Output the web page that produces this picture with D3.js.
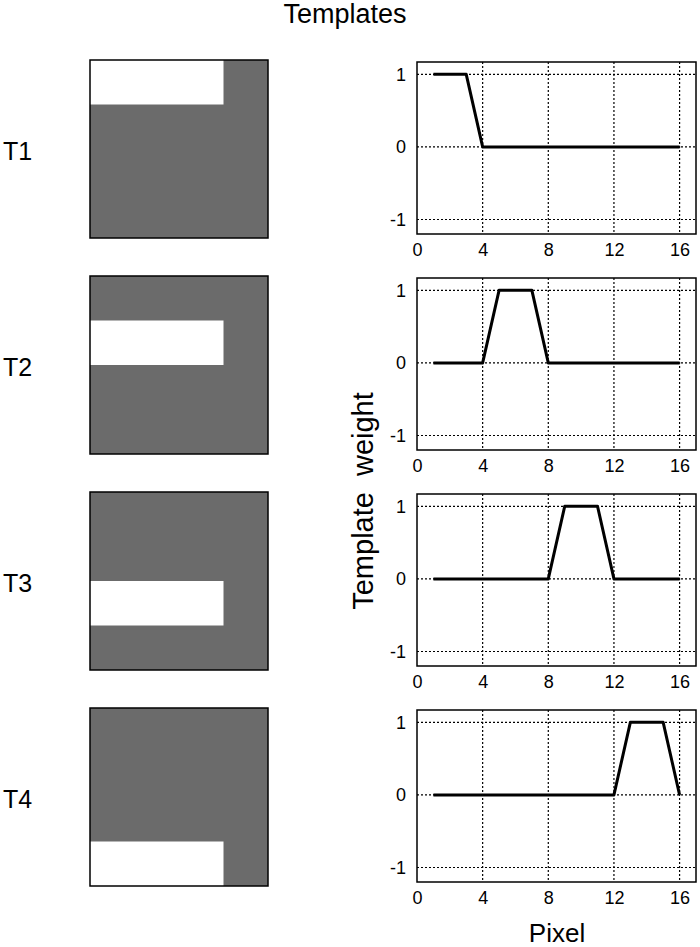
<!DOCTYPE html>
<html>
<head>
<meta charset="utf-8">
<script src="https://cdn.jsdelivr.net/npm/d3@7"></script>
<style>
  body { margin: 0; background: #fff; }
  svg text { font-family: Arial, "Liberation Sans", sans-serif; fill: #000; }
</style>
</head>
<body>
<div id="chart"></div>
<script>
// data
var templateNames = ["T1", "T2", "T3", "T4"];
var pixels = [1, 2, 3, 4, 5, 6, 7, 8, 9, 10, 11, 12, 13, 14, 15, 16];
var t1Weights = [1, 1, 1, 0, 0, 0, 0, 0, 0, 0, 0, 0, 0, 0, 0, 0];
var t2Weights = [0, 0, 0, 0, 1, 1, 1, 0, 0, 0, 0, 0, 0, 0, 0, 0];
var t3Weights = [0, 0, 0, 0, 0, 0, 0, 0, 1, 1, 1, 0, 0, 0, 0, 0];
var t4Weights = [0, 0, 0, 0, 0, 0, 0, 0, 0, 0, 0, 0, 1, 1, 1, 0];
var xTicks = [0, 4, 8, 12, 16];
var yTicks = [-1, 0, 1];
// white bar in each template image: rows [start, end), columns [0, whiteCols)
var whiteRows = [[0, 4], [4, 8], [8, 12], [12, 16]];
var whiteCols = 12;
var gridSize = 16;

var allWeights = [t1Weights, t2Weights, t3Weights, t4Weights];

var width = 700, height = 947;
var svg = d3.select("#chart").append("svg")
    .attr("width", width)
    .attr("height", height);

var panelTop = 62, panelStep = 216, plotH = 172;
var plotLeft = 417, plotRight = 696;
var imgLeft = 90, imgSize = 178;

var xScale = d3.scaleLinear().domain([0, 17]).range([plotLeft, plotRight]);

svg.append("text")
    .attr("x", 345).attr("y", 23)
    .attr("text-anchor", "middle")
    .style("font-size", "27px")
    .text("Templates");

templateNames.forEach(function(name, i){
  var top = panelTop + i * panelStep;
  var weights = allWeights[i];
  var data = pixels.map(function(p, k){ return { x: p, y: weights[k] }; });

  // template image
  var imgTop = top - 2;
  var cell = d3.scaleLinear().domain([0, gridSize]).range([0, imgSize]);
  var img = svg.append("g").attr("transform", "translate(" + imgLeft + "," + imgTop + ")");
  img.append("rect")
      .attr("width", imgSize).attr("height", imgSize)
      .attr("fill", "#6b6b6b");
  img.append("rect")
      .attr("x", cell(0))
      .attr("y", cell(whiteRows[i][0]))
      .attr("width", cell(whiteCols) - cell(0))
      .attr("height", cell(whiteRows[i][1]) - cell(whiteRows[i][0]))
      .attr("fill", "#fff");
  img.append("rect")
      .attr("width", imgSize).attr("height", imgSize)
      .attr("fill", "none").attr("stroke", "#000").attr("stroke-width", 1.5);

  svg.append("text")
      .attr("x", 3).attr("y", imgTop + 100)
      .style("font-size", "25px")
      .text(name);

  // weight plot
  var yScale = d3.scaleLinear().domain([-1.2, 1.17]).range([top + plotH, top]);
  var g = svg.append("g");

  // grid
  g.selectAll(".vgrid").data(xTicks.filter(function(d){ return d > 0; }))
    .enter().append("line")
      .attr("x1", function(d){ return xScale(d); })
      .attr("x2", function(d){ return xScale(d); })
      .attr("y1", top).attr("y2", top + plotH)
      .attr("stroke", "#000").attr("stroke-width", 1.2)
      .attr("stroke-dasharray", "2,2");
  g.selectAll(".hgrid").data(yTicks)
    .enter().append("line")
      .attr("x1", plotLeft).attr("x2", plotRight)
      .attr("y1", function(d){ return yScale(d); })
      .attr("y2", function(d){ return yScale(d); })
      .attr("stroke", "#000").attr("stroke-width", 1.2)
      .attr("stroke-dasharray", "2,2");

  // axes
  var xAxis = d3.axisBottom(xScale).tickValues(xTicks).tickSize(0).tickPadding(9);
  var yAxis = d3.axisLeft(yScale).tickValues(yTicks).tickSize(0).tickPadding(11)
      .tickFormat(d3.format("d"));
  var xg = g.append("g")
      .attr("transform", "translate(0," + (top + plotH) + ")")
      .call(xAxis);
  var yg = g.append("g")
      .attr("transform", "translate(" + plotLeft + ",0)")
      .call(yAxis);
  [xg, yg].forEach(function(a){
    a.select(".domain").remove();
    a.selectAll("text").style("font-size", "18px").attr("font-family", null);
  });
  yg.selectAll("text").text(function(d){ return d < 0 ? "-" + Math.abs(d) : d; });

  // line
  var line = d3.line()
      .x(function(d){ return xScale(d.x); })
      .y(function(d){ return yScale(d.y); });
  g.append("path")
      .datum(data)
      .attr("fill", "none")
      .attr("stroke", "#000")
      .attr("stroke-width", 3)
      .attr("stroke-linejoin", "round")
      .attr("d", line);

  // frame
  g.append("rect")
      .attr("x", plotLeft).attr("y", top)
      .attr("width", plotRight - plotLeft).attr("height", plotH)
      .attr("fill", "none").attr("stroke", "#000").attr("stroke-width", 1.5);
});

svg.append("text")
    .attr("transform", "translate(373,501) rotate(-90)")
    .attr("text-anchor", "middle")
    .style("font-size", "29px")
    .style("word-spacing", "8px")
    .text("Template weight");

svg.append("text")
    .attr("x", 557).attr("y", 942)
    .attr("text-anchor", "middle")
    .style("font-size", "26px")
    .text("Pixel");
</script>
</body>
</html>
